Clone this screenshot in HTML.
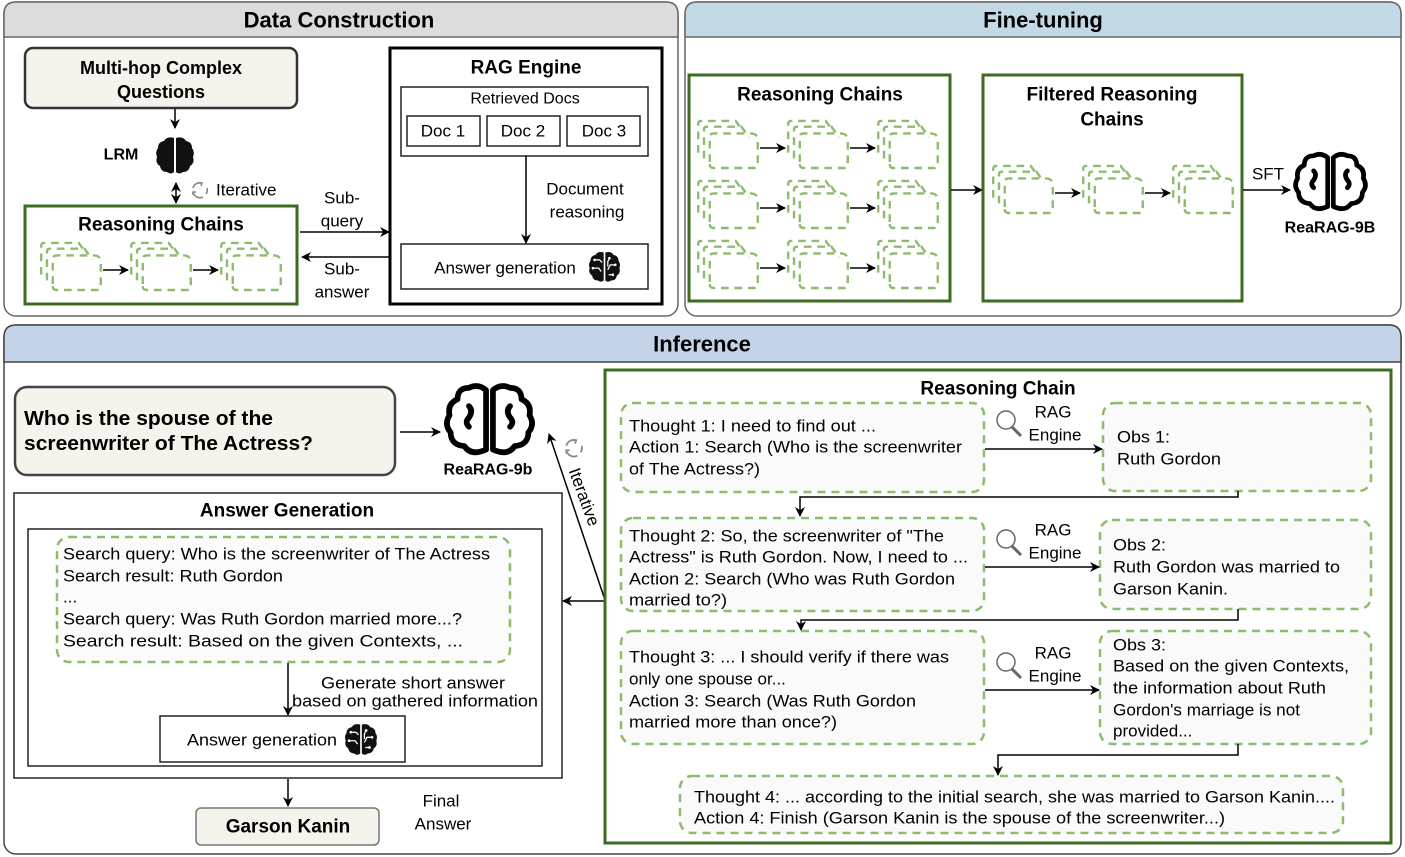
<!DOCTYPE html>
<html><head><meta charset="utf-8"><style>
html,body{margin:0;padding:0;background:#fff;}
svg{display:block;font-family:"Liberation Sans",Arial,sans-serif;}
text{dominant-baseline:central;}
.b{font-weight:bold;}
</style></head><body>
<svg width="1405" height="857" viewBox="0 0 1405 857" xmlns="http://www.w3.org/2000/svg">
<defs>
<marker id="ah" markerWidth="10" markerHeight="10" refX="9" refY="5" orient="auto" markerUnits="userSpaceOnUse"><path d="M0,0 L10,5 L0,10 L3,5 Z" fill="#000"/></marker>
<marker id="as" markerWidth="10" markerHeight="10" refX="1" refY="5" orient="auto" markerUnits="userSpaceOnUse"><path d="M10,0 L0,5 L10,10 L7,5 Z" fill="#000"/></marker>
<symbol id="ch" viewBox="0 0 64 50" overflow="visible">
<g fill="none" stroke="#8cbc6c" stroke-width="2.5" stroke-dasharray="8 6">
<path d="M1,34 V4 Q1,1 4,1 H40 L48,12"/>
<path d="M7,40 V10 Q7,7 10,7 H46 L54,18"/>
<path d="M13,46 Q13,50 17,50 H60 Q63,50 63,46 V22 Q63,14 56,14 H17 Q13,14 13,18 Z"/>
</g></symbol>
<symbol id="bf" viewBox="0 0 40 40">
<path d="M19,3 Q12,1 9,6 Q3,7 3,13 Q0,17 2,22 Q0,28 5,31 Q6,37 12,37 Q16,40 19,37 Z M21,3 Q28,1 31,6 Q37,7 37,13 Q40,17 38,22 Q40,28 35,31 Q34,37 28,37 Q24,40 21,37 Z" fill="#111"/>
</symbol>
<symbol id="bc" viewBox="0 0 40 40">
<path d="M19,3 Q12,1 9,6 Q3,7 3,13 Q0,17 2,22 Q0,28 5,31 Q6,37 12,37 Q16,40 19,37 Z M21,3 Q28,1 31,6 Q37,7 37,13 Q40,17 38,22 Q40,28 35,31 Q34,37 28,37 Q24,40 21,37 Z" fill="#111"/>
<g stroke="#fff" stroke-width="1.5" fill="none"><path d="M8,12 H14 L17,15"/><path d="M6,22 H13 L16,26"/><path d="M26,10 L24,14 V20"/><path d="M33,18 H27 L24,24"/><path d="M30,30 H25"/></g>
<g fill="#fff"><circle cx="8" cy="12" r="1.6"/><circle cx="6" cy="22" r="1.6"/><circle cx="33" cy="18" r="1.6"/><circle cx="30" cy="30" r="1.6"/><circle cx="26" cy="10" r="1.6"/></g>
</symbol>
<symbol id="bo" viewBox="0 0 80 70">
<g fill="none" stroke="#000" stroke-width="5" stroke-linecap="round" stroke-linejoin="round">
<path d="M37,8 Q30,2 22,6 Q12,6 12,16 Q3,20 5,30 Q0,38 6,45 Q6,56 18,57 Q24,66 37,60 Z"/>
<path d="M43,8 Q50,2 58,6 Q68,6 68,16 Q77,20 75,30 Q80,38 74,45 Q74,56 62,57 Q56,66 43,60 Z"/>
<path d="M22,22 Q26,26 22,32 Q18,36 22,40"/><path d="M58,22 Q54,26 58,32 Q62,36 58,40"/>
</g></symbol>
<symbol id="cy" viewBox="0 0 20 20"><g fill="none" stroke="#888" stroke-width="1.6"><path d="M3,8 A7,7 0 0 1 12,3"/><path d="M8,3 L12,3 L11,6"/><path d="M17,8 A7,7 0 0 1 16,14"/><path d="M13,17 A7,7 0 0 1 3,12"/><path d="M3,15 L3,12 L6,12"/></g></symbol>
<symbol id="mg" viewBox="0 0 30 30"><circle cx="12" cy="12" r="9" fill="none" stroke="#666" stroke-width="1.5"/><path d="M18,19 L27,28" stroke="#666" stroke-width="3"/></symbol>
</defs>

<rect x="4" y="2" width="674" height="314" rx="12" fill="#fff" stroke="#666" stroke-width="1.5"/>
<path d="M4,37 V14 Q4,2 16,2 H666 Q678,2 678,14 V37 Z" fill="#dcdcdc" stroke="#666" stroke-width="1.5"/>
<text x="339" y="20" text-anchor="middle" class="b" font-size="22">Data Construction</text>

<rect x="25" y="48" width="272" height="60" rx="8" fill="#f5f3eb" stroke="#333" stroke-width="2.5"/>
<text x="161" y="68" text-anchor="middle" class="b" font-size="18">Multi-hop Complex</text>
<text x="161" y="92" text-anchor="middle" class="b" font-size="18">Questions</text>
<line x1="175" y1="109" x2="175" y2="128" stroke="#000" stroke-width="1.5" marker-end="url(#ah)"/>
<text x="121" y="155" text-anchor="middle" class="b" font-size="16">LRM</text>
<use href="#bf" x="155" y="135" width="40" height="40"/>
<line x1="176" y1="183" x2="176" y2="203" stroke="#000" stroke-width="1.5" marker-end="url(#ah)" marker-start="url(#as)"/>
<use href="#cy" x="190" y="180" width="20" height="20"/>
<text x="216" y="190" font-size="17">Iterative</text>

<rect x="25" y="206" width="272" height="98" fill="#fff" stroke="#3d6b1f" stroke-width="3"/>
<text x="161" y="225" text-anchor="middle" class="b" font-size="19">Reasoning Chains</text>
<use href="#ch" x="40" y="242" width="62" height="48"/>
<use href="#ch" x="130" y="242" width="62" height="48"/>
<use href="#ch" x="220" y="242" width="62" height="48"/>
<line x1="103" y1="270" x2="128" y2="270" stroke="#000" stroke-width="1.5" marker-end="url(#ah)"/>
<line x1="193" y1="270" x2="218" y2="270" stroke="#000" stroke-width="1.5" marker-end="url(#ah)"/>

<text x="342" y="198" text-anchor="middle" font-size="17">Sub-</text>
<text x="342" y="221" text-anchor="middle" font-size="17">query</text>
<line x1="300" y1="232" x2="389" y2="232" stroke="#000" stroke-width="1.5" marker-end="url(#ah)"/>
<line x1="389" y1="257" x2="302" y2="257" stroke="#000" stroke-width="1.5" marker-end="url(#ah)"/>
<text x="342" y="269" text-anchor="middle" font-size="17">Sub-</text>
<text x="342" y="292" text-anchor="middle" font-size="17">answer</text>

<rect x="390" y="48" width="272" height="256" fill="#fff" stroke="#000" stroke-width="3"/>
<text x="526" y="68" text-anchor="middle" class="b" font-size="19">RAG Engine</text>
<rect x="401" y="87" width="247" height="69" fill="none" stroke="#222" stroke-width="1.5"/>
<text x="525" y="99" text-anchor="middle" font-size="16">Retrieved Docs</text>
<rect x="407" y="116" width="73" height="30" fill="none" stroke="#222" stroke-width="1.5"/>
<rect x="487" y="116" width="73" height="30" fill="none" stroke="#222" stroke-width="1.5"/>
<rect x="567" y="116" width="73" height="30" fill="none" stroke="#222" stroke-width="1.5"/>
<text x="443" y="131" text-anchor="middle" font-size="17">Doc 1</text>
<text x="523" y="131" text-anchor="middle" font-size="17">Doc 2</text>
<text x="604" y="131" text-anchor="middle" font-size="17">Doc 3</text>
<line x1="526" y1="156" x2="526" y2="243" stroke="#000" stroke-width="1.5" marker-end="url(#ah)"/>
<text x="585" y="189" text-anchor="middle" font-size="17">Document</text>
<text x="587" y="212" text-anchor="middle" font-size="17">reasoning</text>
<rect x="401" y="244" width="247" height="45" fill="none" stroke="#222" stroke-width="1.5"/>
<text x="505" y="268" text-anchor="middle" font-size="17">Answer generation</text>
<use href="#bc" x="588" y="250" width="33" height="33"/>

<rect x="685" y="2" width="716" height="314" rx="12" fill="#fff" stroke="#666" stroke-width="1.5"/>
<path d="M685,37 V14 Q685,2 697,2 H1389 Q1401,2 1401,14 V37 Z" fill="#c3dae6" stroke="#666" stroke-width="1.5"/>
<text x="1043" y="20" text-anchor="middle" class="b" font-size="22">Fine-tuning</text>

<rect x="689" y="75" width="261" height="226" fill="#fff" stroke="#3d6b1f" stroke-width="3"/>
<text x="820" y="95" text-anchor="middle" class="b" font-size="19">Reasoning Chains</text>
<g>
<use href="#ch" x="697" y="120" width="62" height="48"/><use href="#ch" x="787" y="120" width="62" height="48"/><use href="#ch" x="877" y="120" width="62" height="48"/>
<use href="#ch" x="697" y="180" width="62" height="48"/><use href="#ch" x="787" y="180" width="62" height="48"/><use href="#ch" x="877" y="180" width="62" height="48"/>
<use href="#ch" x="697" y="240" width="62" height="48"/><use href="#ch" x="787" y="240" width="62" height="48"/><use href="#ch" x="877" y="240" width="62" height="48"/>
</g>
<g stroke="#000" stroke-width="1.5">
<line x1="760" y1="148" x2="785" y2="148" marker-end="url(#ah)"/><line x1="850" y1="148" x2="875" y2="148" marker-end="url(#ah)"/>
<line x1="760" y1="208" x2="785" y2="208" marker-end="url(#ah)"/><line x1="850" y1="208" x2="875" y2="208" marker-end="url(#ah)"/>
<line x1="760" y1="268" x2="785" y2="268" marker-end="url(#ah)"/><line x1="850" y1="268" x2="875" y2="268" marker-end="url(#ah)"/>
<line x1="951" y1="190" x2="982" y2="190" marker-end="url(#ah)"/>
</g>
<rect x="983" y="75" width="259" height="226" fill="#fff" stroke="#3d6b1f" stroke-width="3"/>
<text x="1112" y="95" text-anchor="middle" class="b" font-size="19">Filtered Reasoning</text>
<text x="1112" y="120" text-anchor="middle" class="b" font-size="19">Chains</text>
<use href="#ch" x="992" y="165" width="62" height="48"/><use href="#ch" x="1082" y="165" width="62" height="48"/><use href="#ch" x="1172" y="165" width="62" height="48"/>
<g stroke="#000" stroke-width="1.5">
<line x1="1055" y1="193" x2="1080" y2="193" marker-end="url(#ah)"/><line x1="1145" y1="193" x2="1170" y2="193" marker-end="url(#ah)"/>
<line x1="1243" y1="190" x2="1290" y2="190" marker-end="url(#ah)"/>
</g>
<text x="1268" y="174" text-anchor="middle" font-size="17">SFT</text>
<use href="#bo" x="1293" y="150" width="75" height="66"/>
<text x="1330" y="228" text-anchor="middle" class="b" font-size="16">ReaRAG-9B</text>

<rect x="4" y="325" width="1397" height="529" rx="12" fill="#fff" stroke="#444" stroke-width="1.5"/>
<path d="M4,362 V337 Q4,325 16,325 H1389 Q1401,325 1401,337 V362 Z" fill="#c4d3e8" stroke="#444" stroke-width="1.5"/>
<text x="702" y="344" text-anchor="middle" class="b" font-size="22">Inference</text>

<rect x="15" y="387" width="380" height="88" rx="12" fill="#f5f3eb" stroke="#444" stroke-width="2.5"/>
<text x="24" y="419" class="b" font-size="20" textLength="249" lengthAdjust="spacingAndGlyphs">Who is the spouse of the</text>
<text x="24" y="444" class="b" font-size="20" textLength="289" lengthAdjust="spacingAndGlyphs">screenwriter of The Actress?</text>
<line x1="400" y1="432" x2="440" y2="432" stroke="#000" stroke-width="1.5" marker-end="url(#ah)"/>
<use href="#bo" x="443" y="381" width="93" height="80"/>
<text x="488" y="470" text-anchor="middle" class="b" font-size="16">ReaRAG-9b</text>
<line x1="605" y1="600" x2="549" y2="434" stroke="#000" stroke-width="1.5" marker-end="url(#ah)"/>
<use href="#cy" x="563" y="437" width="22" height="22"/>
<text x="0" y="0" font-size="17" transform="translate(584,497) rotate(70)" text-anchor="middle">Iterative</text>
<line x1="604" y1="601" x2="563" y2="601" stroke="#000" stroke-width="1.5" marker-end="url(#ah)"/>

<rect x="14" y="493" width="548" height="285" fill="#fff" stroke="#222" stroke-width="1.5"/>
<text x="287" y="511" text-anchor="middle" class="b" font-size="19">Answer Generation</text>
<rect x="28" y="529" width="514" height="237" fill="none" stroke="#222" stroke-width="1.5"/>
<rect x="57" y="537" width="453" height="125" rx="12" fill="#fbfbfb" stroke="#8cbc6c" stroke-width="2.5" stroke-dasharray="8 6"/>
<g font-size="17">
<text x="63" y="554" textLength="427" lengthAdjust="spacingAndGlyphs">Search query: Who is the screenwriter of The Actress</text>
<text x="63" y="576" textLength="220" lengthAdjust="spacingAndGlyphs">Search result: Ruth Gordon</text>
<text x="63" y="597">...</text>
<text x="63" y="619" textLength="399" lengthAdjust="spacingAndGlyphs">Search query: Was Ruth Gordon married more...?</text>
<text x="63" y="641" textLength="400" lengthAdjust="spacingAndGlyphs">Search result: Based on the given Contexts, ...</text>
<text x="413" y="683" text-anchor="middle" textLength="184" lengthAdjust="spacingAndGlyphs">Generate short answer</text>
<text x="415" y="701" text-anchor="middle" textLength="246" lengthAdjust="spacingAndGlyphs">based on gathered information</text>
<text x="262" y="740" text-anchor="middle" textLength="150" lengthAdjust="spacingAndGlyphs">Answer generation</text>
</g>
<line x1="288" y1="663" x2="288" y2="715" stroke="#000" stroke-width="1.5" marker-end="url(#ah)"/>
<rect x="160" y="716" width="245" height="46" fill="none" stroke="#222" stroke-width="1.5"/>
<use href="#bc" x="344" y="722" width="34" height="34"/>
<line x1="288" y1="779" x2="288" y2="806" stroke="#000" stroke-width="1.5" marker-end="url(#ah)"/>
<rect x="196" y="808" width="183" height="37" rx="5" fill="#f5f3eb" stroke="#777" stroke-width="1.5"/>
<text x="288" y="827" text-anchor="middle" class="b" font-size="19">Garson Kanin</text>
<text x="441" y="801" text-anchor="middle" font-size="17">Final</text>
<text x="443" y="824" text-anchor="middle" font-size="17">Answer</text>

<rect x="605" y="370" width="786" height="473" fill="#fff" stroke="#3d6b1f" stroke-width="3"/>
<text x="998" y="389" text-anchor="middle" class="b" font-size="19">Reasoning Chain</text>
<g fill="#fafafa" stroke="#8cbc6c" stroke-width="2.5" stroke-dasharray="8 6">
<rect x="621" y="403" width="363" height="89" rx="12"/>
<rect x="1103" y="403" width="268" height="88" rx="12"/>
<rect x="621" y="518" width="363" height="93" rx="12"/>
<rect x="1100" y="520" width="271" height="89" rx="12"/>
<rect x="621" y="631" width="363" height="113" rx="12"/>
<rect x="1100" y="631" width="271" height="113" rx="12"/>
<rect x="680" y="776" width="663" height="57" rx="12"/>
</g>
<g font-size="17">
<text x="629" y="426" textLength="247" lengthAdjust="spacingAndGlyphs">Thought 1: I need to find out ...</text>
<text x="629" y="447" textLength="333" lengthAdjust="spacingAndGlyphs">Action 1: Search (Who is the screenwriter</text>
<text x="629" y="469" textLength="131" lengthAdjust="spacingAndGlyphs">of The Actress?)</text>
<text x="1117" y="437" textLength="53" lengthAdjust="spacingAndGlyphs">Obs 1:</text>
<text x="1117" y="459" textLength="104" lengthAdjust="spacingAndGlyphs">Ruth Gordon</text>
<text x="629" y="536" textLength="315" lengthAdjust="spacingAndGlyphs">Thought 2: So, the screenwriter of "The</text>
<text x="629" y="557" textLength="339" lengthAdjust="spacingAndGlyphs">Actress" is Ruth Gordon. Now, I need to ...</text>
<text x="629" y="579" textLength="326" lengthAdjust="spacingAndGlyphs">Action 2: Search (Who was Ruth Gordon</text>
<text x="629" y="600" textLength="98" lengthAdjust="spacingAndGlyphs">married to?)</text>
<text x="1113" y="545" textLength="53" lengthAdjust="spacingAndGlyphs">Obs 2:</text>
<text x="1113" y="567" textLength="227" lengthAdjust="spacingAndGlyphs">Ruth Gordon was married to</text>
<text x="1113" y="589" textLength="115" lengthAdjust="spacingAndGlyphs">Garson Kanin.</text>
<text x="629" y="657" textLength="320" lengthAdjust="spacingAndGlyphs">Thought 3: ... I should verify if there was</text>
<text x="629" y="679">only one spouse or...</text>
<text x="629" y="701" textLength="287" lengthAdjust="spacingAndGlyphs">Action 3: Search (Was Ruth Gordon</text>
<text x="629" y="722" textLength="208" lengthAdjust="spacingAndGlyphs">married more than once?)</text>
<text x="1113" y="645" textLength="53" lengthAdjust="spacingAndGlyphs">Obs 3:</text>
<text x="1113" y="666" textLength="236" lengthAdjust="spacingAndGlyphs">Based on the given Contexts,</text>
<text x="1113" y="688" textLength="213" lengthAdjust="spacingAndGlyphs">the information about Ruth</text>
<text x="1113" y="710" textLength="187" lengthAdjust="spacingAndGlyphs">Gordon's marriage is not</text>
<text x="1113" y="731">provided...</text>
<text x="694" y="797" textLength="641" lengthAdjust="spacingAndGlyphs">Thought 4: ... according to the initial search, she was married to Garson Kanin....</text>
<text x="694" y="818" textLength="531" lengthAdjust="spacingAndGlyphs">Action 4: Finish (Garson Kanin is the spouse of the screenwriter...)</text>
</g>
<g font-size="17" text-anchor="middle">
<text x="1053" y="412">RAG</text><text x="1055" y="435">Engine</text>
<text x="1053" y="530">RAG</text><text x="1055" y="553">Engine</text>
<text x="1053" y="653">RAG</text><text x="1055" y="676">Engine</text>
</g>
<use href="#mg" x="994" y="408" width="30" height="30"/>
<use href="#mg" x="994" y="527" width="30" height="30"/>
<use href="#mg" x="994" y="650" width="30" height="30"/>
<g stroke="#000" stroke-width="1.5" fill="none">
<line x1="985" y1="449" x2="1102" y2="449" marker-end="url(#ah)"/>
<line x1="985" y1="567" x2="1099" y2="567" marker-end="url(#ah)"/>
<line x1="985" y1="690" x2="1099" y2="690" marker-end="url(#ah)"/>
<polyline points="1238,491 1238,497 800,497 800,516" marker-end="url(#ah)"/>
<polyline points="1238,609 1238,620 801,620 801,630" marker-end="url(#ah)"/>
<polyline points="1238,744 1238,755 998,755 998,775" marker-end="url(#ah)"/>
</g>
</svg>
</body></html>
